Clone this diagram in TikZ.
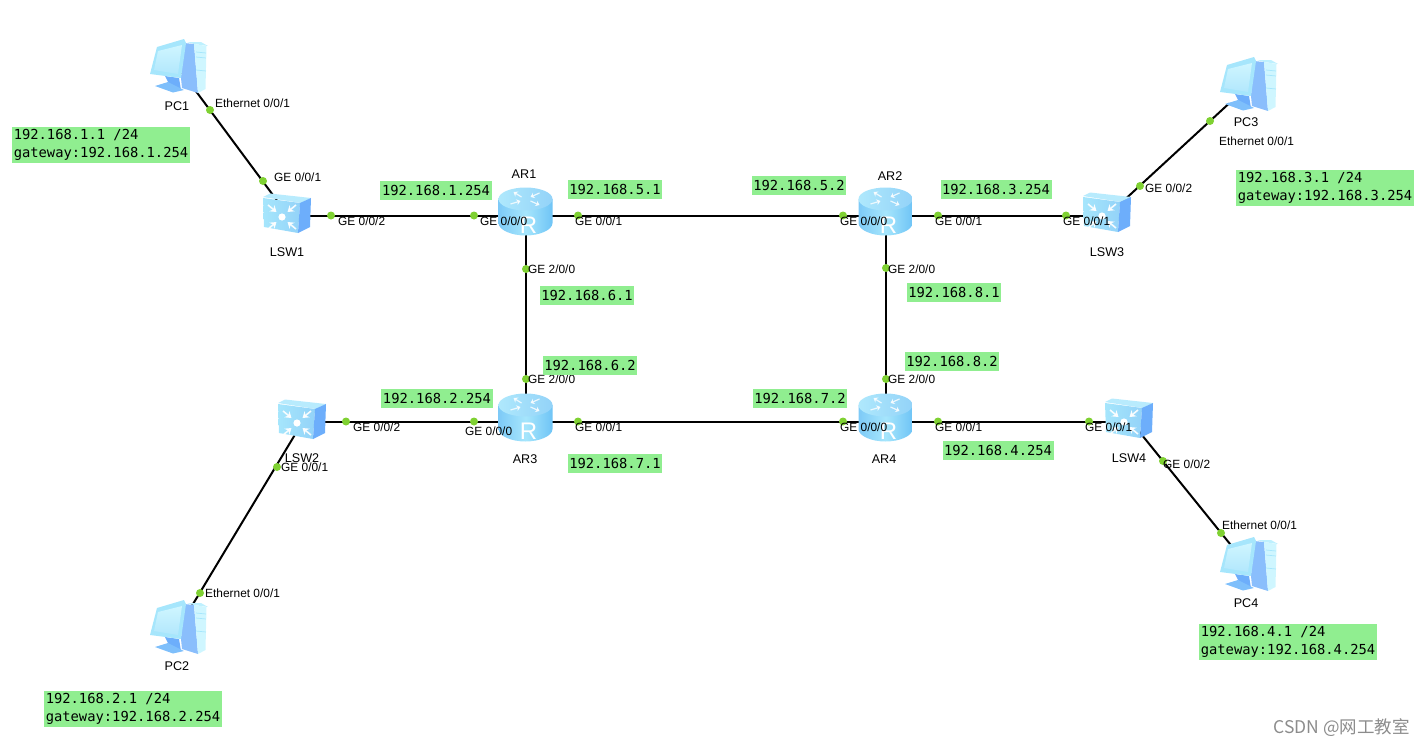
\documentclass[tikz,border=0pt]{standalone}
\usepackage{fontspec}
\setmainfont{Liberation Sans}
\newfontfamily\boxfont{DejaVu Sans Mono}
\newfontfamily\cjkfont{Noto Sans CJK SC}
\usetikzlibrary{arrows.meta}
\definecolor{portgreen}{HTML}{7FD132}
\definecolor{boxgreen}{HTML}{90EE90}
\definecolor{icA}{HTML}{A6E6FC}
\definecolor{icB}{HTML}{6FC4F6}
\definecolor{icC}{HTML}{6DAEFB}
\definecolor{icD}{HTML}{CFF6FF}
\tikzset{
  x=1pt,y=-1pt,
  link/.style={line width=2pt,black},
  portdot/.style={circle,fill=portgreen,draw=none,minimum size=8pt,inner sep=0pt},
  port/.style={anchor=west,inner sep=0pt,font=\fontsize{11.9}{12}\selectfont},
  devname/.style={inner sep=0pt,font=\fontsize{12.6}{12.6}\selectfont},
  ipbox/.style={fill=boxgreen,inner xsep=1.5pt,inner ysep=0pt,minimum height=19pt,font=\boxfont\fontsize{13.8}{17.5}\selectfont,align=left},
  ipboxtwo/.style={ipbox,minimum height=36pt},
  wm/.style={inner sep=0pt,text=black!45,font=\cjkfont\fontsize{17.5}{17.5}\selectfont},
  whitearrow/.style={white,opacity=.9,line width=1.6pt,-{Stealth[length=6pt,width=8pt]}},
  routerarrow/.style={white,opacity=.8,line width=1.2pt,-{Stealth[length=4pt,width=6pt]}},
  router/.pic={
    \path[left color=icB!90!white,right color=icB,middle color=icA] (-27,-13) -- (-27,11)
      .. controls (-27,18) and (-14,23.5) .. (0,23.5) .. controls (14,23.5) and (27,18) .. (27,11) -- (27,-13) -- cycle;
    \path[left color=icA!90!white,right color=icB!75!white] (0,-13) ellipse [x radius=27,y radius=11.5];
    \draw[routerarrow] (-4,-15) -- (-12,-20);
    \draw[routerarrow] (-15,-8) -- (-5,-11);
    \draw[routerarrow] (14,-19) -- (5,-15);
    \draw[routerarrow] (5,-11) -- (14,-7);
    \node[white,inner sep=0pt,font=\fontsize{24}{24}\selectfont] at (3,13) {R};
  },
  switchicon/.pic={
    \fill[icA!80!white] (-24,-17) -- (-17,-20.5) -- (24,-16) -- (14,-11) -- cycle;
    \path[left color=icA,right color=icB!75!white] (-24,-16) -- (13,-11) -- (11,19) -- (-23,13) -- cycle;
    \fill[icC] (13,-11) -- (24,-16) -- (23,13) -- (11,19) -- cycle;
    \foreach \dx/\dy in {-1/-1,1/-1,-1/1,1/1}{
      \draw[whitearrow] ({-5+14*\dx},{3+12*\dy}) -- ({-5+5.5*\dx},{3+5*\dy});
    }
    \fill[white] (-5,3) circle (3.6);
  },
  pcicon/.pic={
    \fill[icD!60!icA] (10,-24) -- (17,-22) -- (31,-20) -- (24,-24) -- cycle;
    \fill[icC!80!white] (7,-23) -- (17,-22) -- (21,27) -- (5,22) -- (4,12) -- cycle;
    \fill[icD] (17,-22) -- (29.5,-20) -- (28.5,23) -- (21,27) -- cycle;
    \draw[icA,line width=.7pt] (19,-14) -- (29,-13) (19,-9) -- (29,-8) (19,4) -- (29,5);
    \fill[icC] (-12,10) -- (2,12) -- (4,24) -- (-8,18) -- cycle;
    \fill[icC!70!icA] (-22,20) -- (-9,16) -- (7,24) -- (-4,26.5) -- cycle;
    \fill[icA] (-20,-19) -- (7,-27) -- (9,-23) -- (4,12) -- (-27,8) -- cycle;
    \path[top color=icD,bottom color=icD!70!icB] (-19,-15) -- (5,-21) -- (1,8) -- (-23,4) -- cycle;
  }
}
\begin{document}
\begin{tikzpicture}
\useasboundingbox (0,0) rectangle (1425,747);
% device centres
\coordinate (PC1) at (178,67);
\coordinate (PC2) at (178,629);
\coordinate (PC3) at (1229,103.5);
\coordinate (PC4) at (1247,565);
\coordinate (LSW1) at (287,214);
\coordinate (LSW2) at (302,423);
\coordinate (LSW3) at (1107,216);
\coordinate (LSW4) at (1129,419);
\coordinate (AR1) at (526,216);
\coordinate (AR2) at (886,216);
\coordinate (AR3) at (526,422);
\coordinate (AR4) at (886,422);
% links
\draw[link] (PC1) -- (LSW1);
\draw[link] (PC3) -- (LSW3);
\draw[link] (PC2) -- (LSW2);
\draw[link] (PC4) -- (LSW4);
\draw[link] (LSW1 |- AR1) -- (AR1);
\draw[link] (AR1) -- (AR2);
\draw[link] (AR2) -- (LSW3 |- AR2);
\draw[link] (AR1) -- (AR3);
\draw[link] (AR2) -- (AR4);
\draw[link] (LSW2 |- AR3) -- (AR3);
\draw[link] (AR3) -- (AR4);
\draw[link] (AR4) -- (LSW4 |- AR4);
% icons
\pic at (177,66) {pcicon};
\pic at (177,627) {pcicon};
\pic at (1247,84) {pcicon};
\pic at (1247,564) {pcicon};
\pic at (287,214) {switchicon};
\pic at (302,420) {switchicon};
\pic at (1107,213) {switchicon};
\pic at (1129,419) {switchicon};
\pic at (525.5,212) {router};
\pic at (885.5,212) {router};
\pic at (525.5,418) {router};
\pic at (885.5,418) {router};
% port dots
\foreach \n/\x/\y in {a/210/110,b/263/181,c/331/215.5,d/474/215.5,e/578/215.5,f/526/269,g/843/215.5,h/938/215.5,i/886/268,j/1066/215.5,k/1140/186,l/1210/121,m/346/421.5,n/277/467,o/200/593,p/526/379,q/474/421.5,r/578/421.5,s/886/379,t/843/421.5,u/938/421.5,v/1089/421.5,w/1163/461,z/1221/533}
  \node[portdot] (dot\n) at (\x,\y) {};
% port labels
\foreach \n/\x/\y/\t in {a/215/103/Ethernet 0\slash 0\slash 1,b/274/177/GE 0\slash 0\slash 1,c/338/221/GE 0\slash 0\slash 2,d/480/221/GE 0\slash 0\slash 0,e/575/221/GE 0\slash 0\slash 1,f/528/269/GE 2\slash 0\slash 0,g/840/221/GE 0\slash 0\slash 0,h/935/221/GE 0\slash 0\slash 1,i/888/269/GE 2\slash 0\slash 0,j/1063/221/GE 0\slash 0\slash 1,k/1145/188/GE 0\slash 0\slash 2,l/1219/141/Ethernet 0\slash 0\slash 1,m/353/427/GE 0\slash 0\slash 2,n/281/467/GE 0\slash 0\slash 1,o/205/593/Ethernet 0\slash 0\slash 1,p/528/379/GE 2\slash 0\slash 0,q/465/431/GE 0\slash 0\slash 0,r/575/427/GE 0\slash 0\slash 1,s/888/379/GE 2\slash 0\slash 0,t/840/427/GE 0\slash 0\slash 0,u/935/427/GE 0\slash 0\slash 1,v/1085/427/GE 0\slash 0\slash 1,w/1163/464/GE 0\slash 0\slash 2,z/1222/525/Ethernet 0\slash 0\slash 1}
  \node[port] (port\n) at (\x,\y) {\t};
% device names
\node[devname] (nPC1) at (177,106) {PC1};
\node[devname] (nPC2) at (177,666) {PC2};
\node[devname] (nPC3) at (1246,122) {PC3};
\node[devname] (nPC4) at (1246,603) {PC4};
\node[devname] (nLSW1) at (287,252) {LSW1};
\node[devname] (nLSW2) at (302,458) {LSW2};
\node[devname] (nLSW3) at (1107,252) {LSW3};
\node[devname] (nLSW4) at (1129,458) {LSW4};
\node[devname] (nAR1) at (524,174) {AR1};
\node[devname] (nAR2) at (890,176) {AR2};
\node[devname] (nAR3) at (525,459) {AR3};
\node[devname] (nAR4) at (884,459) {AR4};
% address boxes
\node[ipbox] (ip1) at (436,190.5) {192.168.1.254};
\node[ipbox] (ip2) at (615,189.5) {192.168.5.1};
\node[ipbox] (ip3) at (799,185.5) {192.168.5.2};
\node[ipbox] (ip4) at (996,189.5) {192.168.3.254};
\node[ipbox] (ip5) at (587,295.5) {192.168.6.1};
\node[ipbox] (ip6) at (954,292.5) {192.168.8.1};
\node[ipbox] (ip7) at (590,365.5) {192.168.6.2};
\node[ipbox] (ip8) at (952,361.5) {192.168.8.2};
\node[ipbox] (ip9) at (437,398.5) {192.168.2.254};
\node[ipbox] (ip10) at (800,398.5) {192.168.7.2};
\node[ipbox] (ip11) at (615,463.5) {192.168.7.1};
\node[ipbox] (ip12) at (998,450.5) {192.168.4.254};
\node[ipboxtwo] (ipa) at (101,145) {192.168.1.1 /24\\gateway:192.168.1.254};
\node[ipboxtwo] (ipb) at (133,709) {192.168.2.1 /24\\gateway:192.168.2.254};
\node[ipboxtwo] (ipc) at (1325,188) {192.168.3.1 /24\\gateway:192.168.3.254};
\node[ipboxtwo] (ipd) at (1288,642) {192.168.4.1 /24\\gateway:192.168.4.254};
\node[wm,anchor=east] (mark) at (1410,728) {CSDN @网工教室};
\end{tikzpicture}
\end{document}
